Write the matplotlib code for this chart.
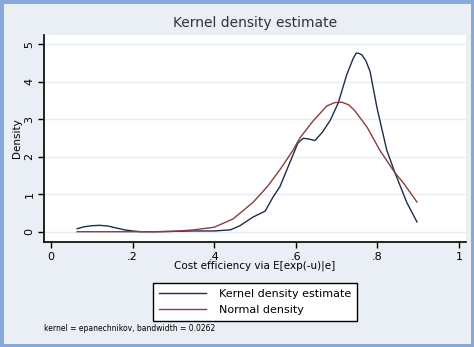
import numpy as np
import matplotlib.pyplot as plt
from matplotlib.patches import Rectangle

# Kernel density estimate of cost efficiency
kernel_x = [0.064, 0.08, 0.10, 0.12, 0.14, 0.16, 0.18, 0.20, 0.22, 0.26, 0.30, 0.35,
            0.40, 0.44, 0.463, 0.495, 0.525, 0.544, 0.561, 0.586, 0.605, 0.618, 0.632,
            0.647, 0.665, 0.684, 0.704, 0.725, 0.740, 0.748, 0.755, 0.762, 0.772, 0.782,
            0.799, 0.823, 0.843, 0.872, 0.897]
kernel_y = [0.08, 0.13, 0.16, 0.17, 0.15, 0.10, 0.05, 0.02, 0.0, 0.0, 0.01, 0.02,
            0.02, 0.05, 0.16, 0.39, 0.55, 0.92, 1.2, 1.86, 2.36, 2.49, 2.47,
            2.43, 2.65, 2.96, 3.43, 4.19, 4.6, 4.76, 4.75, 4.71, 4.55, 4.27,
            3.3, 2.17, 1.57, 0.78, 0.26]

# Normal density with the same mean and sd
normal_x = [0.064, 0.15, 0.25, 0.30, 0.35, 0.40, 0.446, 0.495, 0.53, 0.561, 0.593,
            0.61, 0.643, 0.676, 0.695, 0.713, 0.730, 0.745, 0.775, 0.806, 0.843, 0.863, 0.897]
normal_y = [0.0, 0.0, 0.0, 0.01, 0.05, 0.12, 0.34, 0.78, 1.2, 1.65, 2.17,
            2.5, 2.96, 3.35, 3.44, 3.45, 3.38, 3.22, 2.78, 2.17, 1.57, 1.31, 0.79]

x_ticks = [0, 0.2, 0.4, 0.6, 0.8, 1.0]
x_tick_labels = ['0', '.2', '.4', '.6', '.8', '1']
y_ticks = [0, 1, 2, 3, 4, 5]

bg = '#e9eff4'
fig = plt.figure(figsize=(4.74, 3.47), dpi=100, facecolor=bg)
# blue window frame
fig.patches.append(Rectangle((0.0, 0.0), 1, 1, transform=fig.transFigure,
                             fill=False, edgecolor='#86a9d8', linewidth=5))

ax = fig.add_axes([0.093, 0.303, 0.890, 0.596])
ax.set_facecolor('white')
ax.set_xlim(-0.017, 1.017)
ax.set_ylim(-0.27, 5.24)

for y in y_ticks:
    ax.axhline(y, color='#e6edf2', linewidth=1.0, zorder=0)

ax.plot(kernel_x, kernel_y, color='#1e2d4a', linewidth=1.0, label='Kernel density estimate')
ax.plot(normal_x, normal_y, color='#8a3d3d', linewidth=1.0, label='Normal density')

ax.set_xticks(x_ticks)
ax.set_xticklabels(x_tick_labels)
ax.set_yticks(y_ticks)
ax.set_yticklabels([str(v) for v in y_ticks], rotation=90, va='center')
ax.tick_params(axis='both', labelsize=8, color='black', length=4, width=1, pad=3)

for side in ['top', 'right']:
    ax.spines[side].set_visible(False)
for side in ['left', 'bottom']:
    ax.spines[side].set_linewidth(1.2)

ax.set_title('Kernel density estimate', fontsize=10, color='#333333', pad=6)
ax.set_xlabel('Cost efficiency via E[exp(-u)|e]', fontsize=7.5, labelpad=-1)
ax.set_ylabel('Density', fontsize=7.5, labelpad=2)

leg = fig.legend(loc='center', bbox_to_anchor=(0.538, 0.13), fontsize=8, frameon=True,
                 fancybox=False, edgecolor='black', facecolor='white', framealpha=1,
                 handlelength=4.2, borderpad=0.5, labelspacing=0.6, handletextpad=1.2)
leg.get_frame().set_linewidth(1.0)

fig.text(0.093, 0.047, 'kernel = epanechnikov, bandwidth = 0.0262', fontsize=5.5)

fig.savefig('out.png', dpi=100, facecolor=bg)
